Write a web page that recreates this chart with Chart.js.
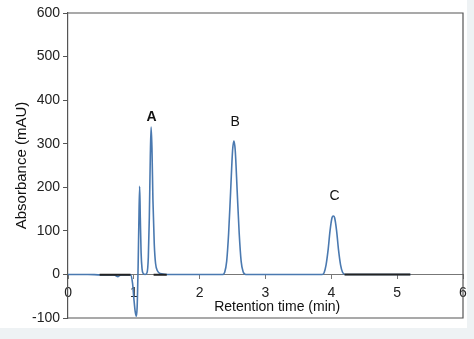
<!DOCTYPE html>
<html>
<head>
<meta charset="utf-8">
<script src="https://cdn.jsdelivr.net/npm/chart.js@4/dist/chart.umd.min.js"></script>
<style>
  html, body { margin: 0; padding: 0; background: #eef2f4; }
  #wrap { width: 474px; height: 339px; }
</style>
</head>
<body>
<div id="wrap"><canvas id="chrom" width="474" height="339"></canvas></div>
<script>
// retention time (min) and absorbance (mAU)
const traceTime = [0, 0.3, 0.5, 0.7, 0.76, 0.8, 0.95, 0.98, 1.0, 1.02, 1.037, 1.05, 1.058, 1.065, 1.075, 1.088,
  1.098, 1.11, 1.125, 1.14, 1.17, 1.2, 1.22, 1.235, 1.25, 1.262, 1.275, 1.29, 1.31, 1.33, 1.36, 1.4, 1.5,
  2.35, 2.38, 2.41, 2.44, 2.47, 2.5, 2.52, 2.54, 2.57, 2.6, 2.63, 2.66, 2.7,
  3.86, 3.89, 3.92, 3.95, 3.98, 4.01, 4.03, 4.05, 4.08, 4.11, 4.14, 4.17, 4.21, 5.2];
const traceAbs = [0, 0, -1, -1, -5, -1, -1, -20, -55, -85, -96, -75, -30, 20, 110, 202,
  130, 50, 12, 3, 0, 4, 40, 130, 270, 338, 290, 170, 70, 25, 8, 2, 0,
  0, 5, 30, 95, 190, 285, 306, 285, 190, 95, 30, 6, 0,
  0, 4, 22, 55, 100, 130, 134, 130, 100, 55, 22, 5, 0, 0];

// darker baseline stretches
const baseTime = [0.48, 0.95, null, 1.3, 1.5, null, 4.2, 5.2];
const baseAbs = [-1, -1, null, -1, -1, null, 0, 0];

// peak names and where they sit (time, absorbance)
const peakNames = ['A', 'B', 'C'];
const peakTime = [1.27, 2.54, 4.05];
const peakAbs = [361, 349, 180];
const peakBold = [true, false, false];

const xTicks = [0, 1, 2, 3, 4, 5, 6];
const yTicks = [-100, 0, 100, 200, 300, 400, 500, 600];

const font = "'Liberation Sans', Arial, sans-serif";

const points = traceTime.map((t, i) => ({ x: t, y: traceAbs[i] }));
const basePoints = baseTime.map((t, i) => ({ x: t, y: baseAbs[i] }));

const framePlugin = {
  id: 'frame',
  beforeDraw(chart) {
    const c = chart.ctx;
    c.save();
    c.fillStyle = '#ffffff';
    c.fillRect(0, 0, 467, 328);
    c.restore();
  },
  afterDraw(chart) {
    const a = chart.chartArea;
    const c = chart.ctx;
    c.save();
    c.strokeStyle = '#555555';
    c.lineWidth = 1.2;
    c.beginPath();
    c.moveTo(a.left, a.top);
    c.lineTo(a.right, a.top);
    c.lineTo(a.right, a.bottom);
    c.lineTo(a.left, a.bottom);
    c.stroke();
    // peak names
    const xs = chart.scales.x, ys = chart.scales.y;
    c.fillStyle = '#111111';
    c.textAlign = 'center';
    c.textBaseline = 'middle';
    peakNames.forEach((n, i) => {
      c.font = (peakBold[i] ? 'bold ' : '') + '14px ' + font;
      c.fillText(n, xs.getPixelForValue(peakTime[i]), ys.getPixelForValue(peakAbs[i]));
    });
    c.restore();
  }
};

new Chart(document.getElementById('chrom'), {
  type: 'line',
  data: {
    datasets: [{
      data: basePoints,
      borderColor: '#222222',
      borderWidth: 2,
      pointRadius: 0,
      spanGaps: false,
      tension: 0
    }, {
      data: points,
      borderColor: '#4a79b0',
      borderWidth: 1.6,
      pointRadius: 0,
      tension: 0.3,
      cubicInterpolationMode: 'monotone'
    }]
  },
  options: {
    responsive: false,
    animation: false,
    layout: { padding: { left: 13, right: 11, top: 13, bottom: 21 } },
    plugins: { legend: { display: false }, tooltip: { enabled: false } },
    scales: {
      x: {
        type: 'linear',
        position: { y: 0 },
        min: 0, max: 6,
        afterBuildTicks: s => { s.ticks = xTicks.map(v => ({ value: v })); },
        grid: { drawOnChartArea: false, tickLength: 4, color: '#777777' },
        border: { color: '#777777', width: 1 },
        ticks: { color: '#222222', font: { family: font, size: 14 }, padding: 6, maxRotation: 0 },
        title: { display: true, text: '      Retention time (min)', color: '#111111', font: { family: font, size: 14 }, padding: { top: -8, bottom: 0 } }
      },
      y: {
        min: -100, max: 600,
        afterBuildTicks: s => { s.ticks = yTicks.map(v => ({ value: v })); },
        grid: { drawOnChartArea: false, tickLength: 5, color: '#555555' },
        border: { color: '#555555', width: 1.2 },
        ticks: { color: '#222222', font: { family: font, size: 14 }, padding: 3 },
        title: { display: true, text: 'Absorbance (mAU)', color: '#111111', font: { family: font, size: 15 }, padding: { top: 0, bottom: -2 } }
      }
    }
  },
  plugins: [framePlugin]
});
</script>
</body>
</html>
